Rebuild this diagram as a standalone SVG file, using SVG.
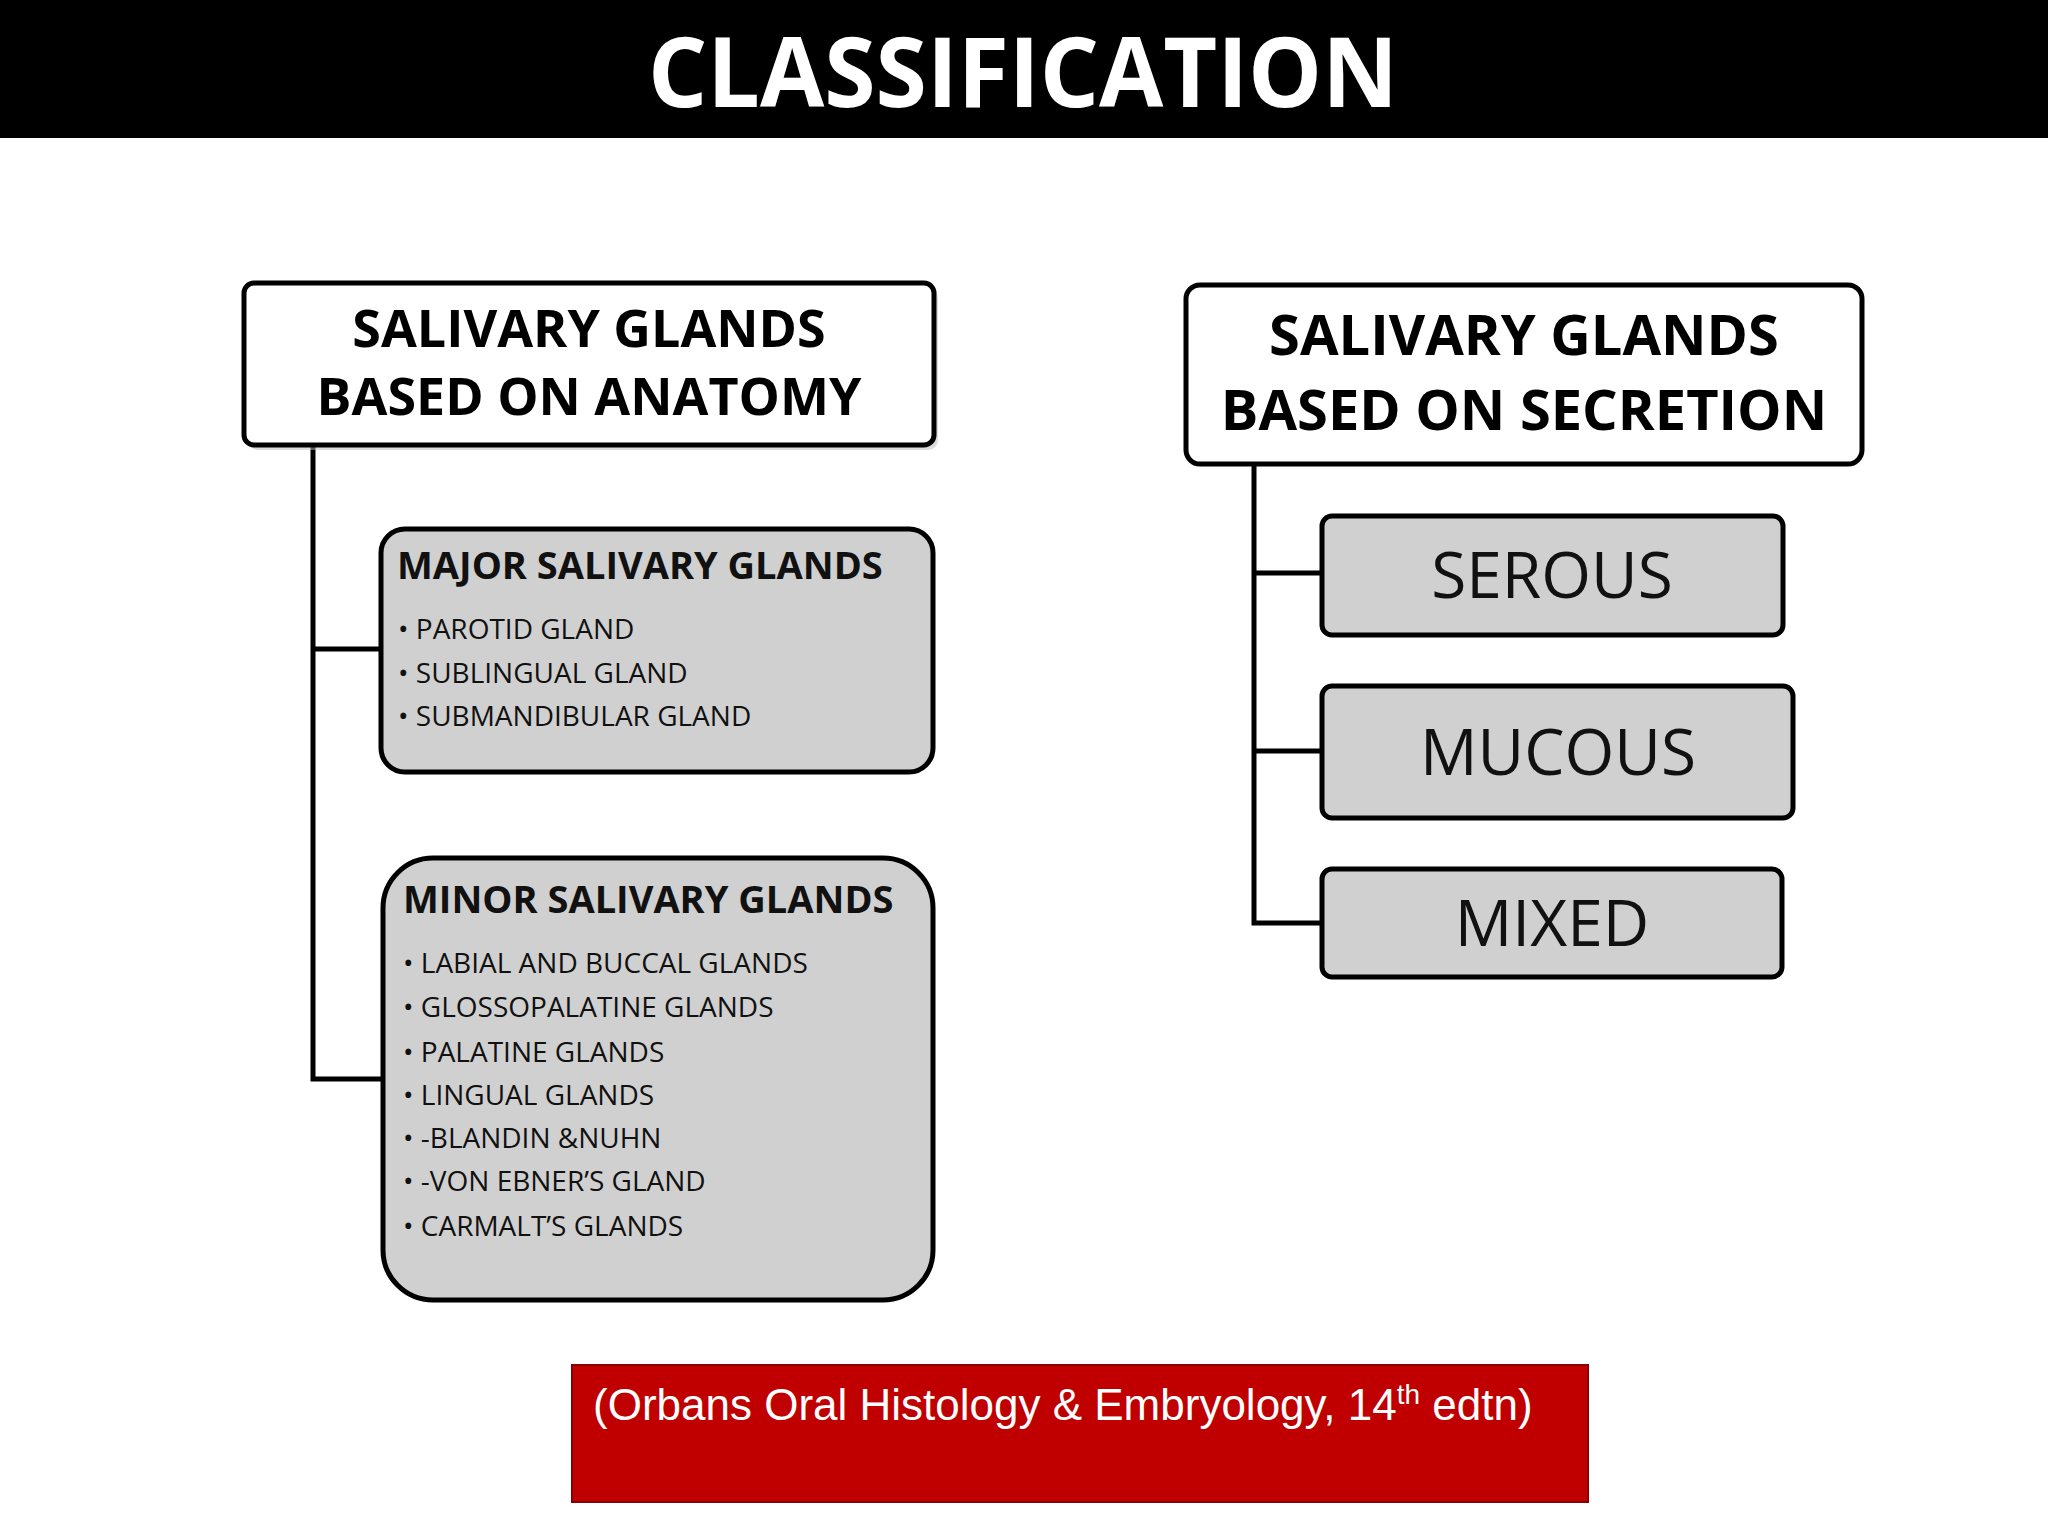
<svg xmlns="http://www.w3.org/2000/svg" width="2048" height="1536" viewBox="0 0 2048 1536">
<style>
.h{font-family:"Open Sans","DejaVu Sans",sans-serif;font-weight:bold;fill:#000;text-anchor:middle}
.g{fill:#d0d0d0;stroke:#000;stroke-width:5}
.w{fill:#fff;stroke:#000;stroke-width:5}
.b{font-family:"Open Sans","DejaVu Sans",sans-serif;font-size:28px;fill:#111}
.t{font-family:"Open Sans","DejaVu Sans",sans-serif;font-weight:bold;font-size:38px;fill:#111}
.s{font-family:"Open Sans","DejaVu Sans",sans-serif;font-size:64px;fill:#111;text-anchor:middle}
.c{fill:none;stroke:#000;stroke-width:5}
</style>
<rect width="2048" height="1536" fill="#fff"/>
<g id="header"><rect x="0" y="0" width="2048" height="138" fill="#000"/>
<text x="1023" y="107" class="h" style="fill:#fff;font-size:96px" textLength="750" lengthAdjust="spacingAndGlyphs">CLASSIFICATION</text></g>
<g id="connectors">
<path class="c" d="M313 445V1079H383M313 649H381"/>
<path class="c" d="M1254 464V923H1322M1254 573H1322M1254 751H1322"/>
</g>
<g id="anatomy"><rect x="248" y="288" width="690" height="162" rx="10" fill="#bbb" opacity="0.5"/>
<rect class="w" x="244" y="283" width="690" height="162" rx="10"/>
<text class="h" x="589" y="347" font-size="52">SALIVARY GLANDS</text>
<text class="h" x="589" y="415" font-size="52">BASED ON ANATOMY</text></g>
<g id="secretion"><rect class="w" x="1186" y="285" width="676" height="179" rx="14"/>
<text class="h" x="1524" y="355" font-size="56">SALIVARY GLANDS</text>
<text class="h" x="1524" y="430" font-size="56">BASED ON SECRETION</text></g>
<g id="major"><rect class="g" x="381" y="529" width="552" height="243" rx="24"/>
<text class="t" x="397" y="579">MAJOR SALIVARY GLANDS</text>
<text class="b" x="398" y="639">• PAROTID GLAND</text>
<text class="b" x="398" y="683">• SUBLINGUAL GLAND</text>
<text class="b" x="398" y="726">• SUBMANDIBULAR GLAND</text></g>
<g id="minor"><rect class="g" x="383" y="858" width="550" height="442" rx="50"/>
<text class="t" x="403" y="913">MINOR SALIVARY GLANDS</text>
<text class="b" x="403" y="973">• LABIAL AND BUCCAL GLANDS</text>
<text class="b" x="403" y="1017">• GLOSSOPALATINE GLANDS</text>
<text class="b" x="403" y="1062">• PALATINE GLANDS</text>
<text class="b" x="403" y="1105">• LINGUAL GLANDS</text>
<text class="b" x="403" y="1148">• -BLANDIN &amp;NUHN</text>
<text class="b" x="403" y="1191">• -VON EBNER’S GLAND</text>
<text class="b" x="403" y="1236">• CARMALT’S GLANDS</text></g>
<g id="serous"><rect class="g" x="1322" y="516" width="461" height="119" rx="10"/><text class="s" x="1552" y="598">SEROUS</text></g>
<g id="mucous"><rect class="g" x="1322" y="686" width="471" height="132" rx="10"/><text class="s" x="1558" y="775">MUCOUS</text></g>
<g id="mixed"><rect class="g" x="1322" y="869" width="460" height="108" rx="10"/><text class="s" x="1552" y="946">MIXED</text></g>
<g id="ref"><rect x="572" y="1365" width="1016" height="137" fill="#c00000" stroke="#800" stroke-width="2"/>
<text x="593" y="1420" font-family="Liberation Sans,Arial,sans-serif" font-size="44" fill="#fff">(Orbans Oral Histology &amp; Embryology, 14<tspan dy="-16" font-size="28">th</tspan><tspan dy="16"> edtn)</tspan></text></g>
</svg>
